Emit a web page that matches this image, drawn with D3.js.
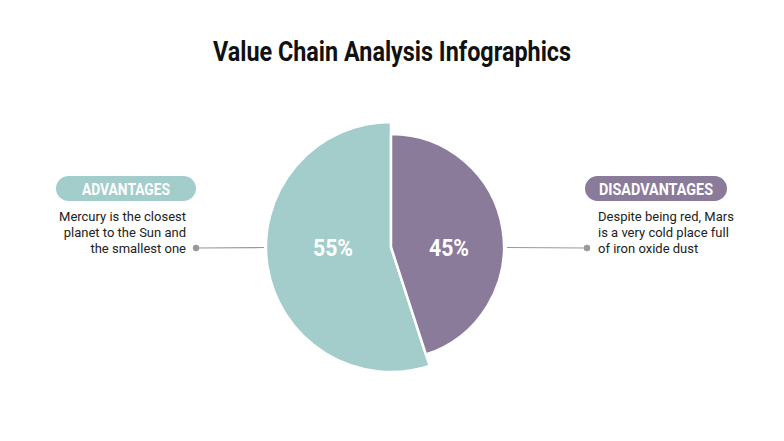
<!DOCTYPE html>
<html>
<head>
<meta charset="utf-8">
<script src="https://cdn.jsdelivr.net/npm/d3@7"></script>
<style>
  body { margin: 0; background: #fff; }
  svg { display: block; }
</style>
</head>
<body>
<svg class="chart" width="784" height="441"></svg>
<script>
const categories = ['ADVANTAGES', 'DISADVANTAGES'];
const shares = [55, 45];
const descriptions = [
    ['Mercury is the closest', 'planet to the Sun and', 'the smallest one'],
    ['Despite being red, Mars', 'is a very cold place full', 'of iron oxide dust']
];
const colors = ['#a3cdcb', '#8a7b9b'];

const svg = d3.select('.chart');
const width = +svg.attr('width');
// no condensed face installed, so squeeze a normal bold one with textLength
const condensed = 'Roboto, "Open Sans", sans-serif';

svg.append('text')
    .attr('x', width / 2)
    .attr('y', 61)
    .attr('text-anchor', 'middle')
    .attr('textLength', 358)
    .attr('lengthAdjust', 'spacingAndGlyphs')
    .style('font-family', condensed)
    .style('font-weight', 'bold')
    .style('font-size', '27px')
    .attr('fill', '#111')
    .text('Value Chain Analysis Infographics');

const cx = 391, cy = 247;
// the advantage slice sticks out a bit more than the other one
const radii = [125, 113];

const pie = d3.pie().sort(null).value(d => d.value)
    .startAngle(2 * Math.PI).endAngle(0);
const arcs = pie(categories.map((c, i) => ({ key: c, value: shares[i], i })));

const g = svg.append('g').attr('transform', `translate(${cx}, ${cy})`);

g.selectAll('path')
    .data(arcs)
    .join('path')
    .attr('d', d => d3.arc().innerRadius(0).outerRadius(radii[d.data.i])(d))
    .attr('fill', d => colors[d.data.i])
    .attr('stroke', '#fff')
    .attr('stroke-width', 2.5)
    .attr('stroke-linejoin', 'round');

g.selectAll('text.pct')
    .data(arcs)
    .join('text')
    .attr('class', 'pct')
    .attr('x', d => d.data.i === 0 ? -58 : 58)
    .attr('y', 9)
    .attr('text-anchor', 'middle')
    .attr('textLength', 40)
    .attr('lengthAdjust', 'spacingAndGlyphs')
    .style('font-family', condensed)
    .style('font-weight', 'bold')
    .style('font-size', '24px')
    .attr('fill', '#fff')
    .text(d => d.data.value + '%');

// side labels
const sides = [
    { pillX: 56, pillW: 140, labelW: 88, textX: 186, anchor: 'end', lineFrom: 196, lineTo: 264 },
    { pillX: 585, pillW: 142, labelW: 114, textX: 598, anchor: 'start', lineFrom: 587, lineTo: 507 }
];

sides.forEach((s, i) => {
    const grp = svg.append('g');
    grp.append('rect')
        .attr('x', s.pillX)
        .attr('y', 176)
        .attr('width', s.pillW)
        .attr('height', 25)
        .attr('rx', 12.5)
        .attr('fill', colors[i]);
    grp.append('text')
        .attr('x', s.pillX + s.pillW / 2)
        .attr('y', 195)
        .attr('text-anchor', 'middle')
        .attr('textLength', s.labelW)
        .attr('lengthAdjust', 'spacingAndGlyphs')
        .style('font-family', condensed)
        .style('font-weight', 'bold')
        .style('font-size', '17px')
        .attr('fill', '#fff')
        .text(categories[i]);
    grp.append('text')
        .attr('text-anchor', s.anchor)
        .style('font-family', 'Roboto, sans-serif')
        .style('font-size', '13px')
        .attr('fill', '#222')
        .selectAll('tspan')
        .data(descriptions[i])
        .join('tspan')
        .attr('x', s.textX)
        .attr('y', (d, j) => 221 + j * 16)
        .text(d => d);
    grp.append('line')
        .attr('x1', s.lineFrom).attr('y1', 248)
        .attr('x2', s.lineTo).attr('y2', 247.5)
        .attr('stroke', '#999')
        .attr('stroke-width', 1.2);
    grp.append('circle')
        .attr('cx', s.lineFrom).attr('cy', 248)
        .attr('r', 3.2)
        .attr('fill', '#999');
});
</script>
</body>
</html>
